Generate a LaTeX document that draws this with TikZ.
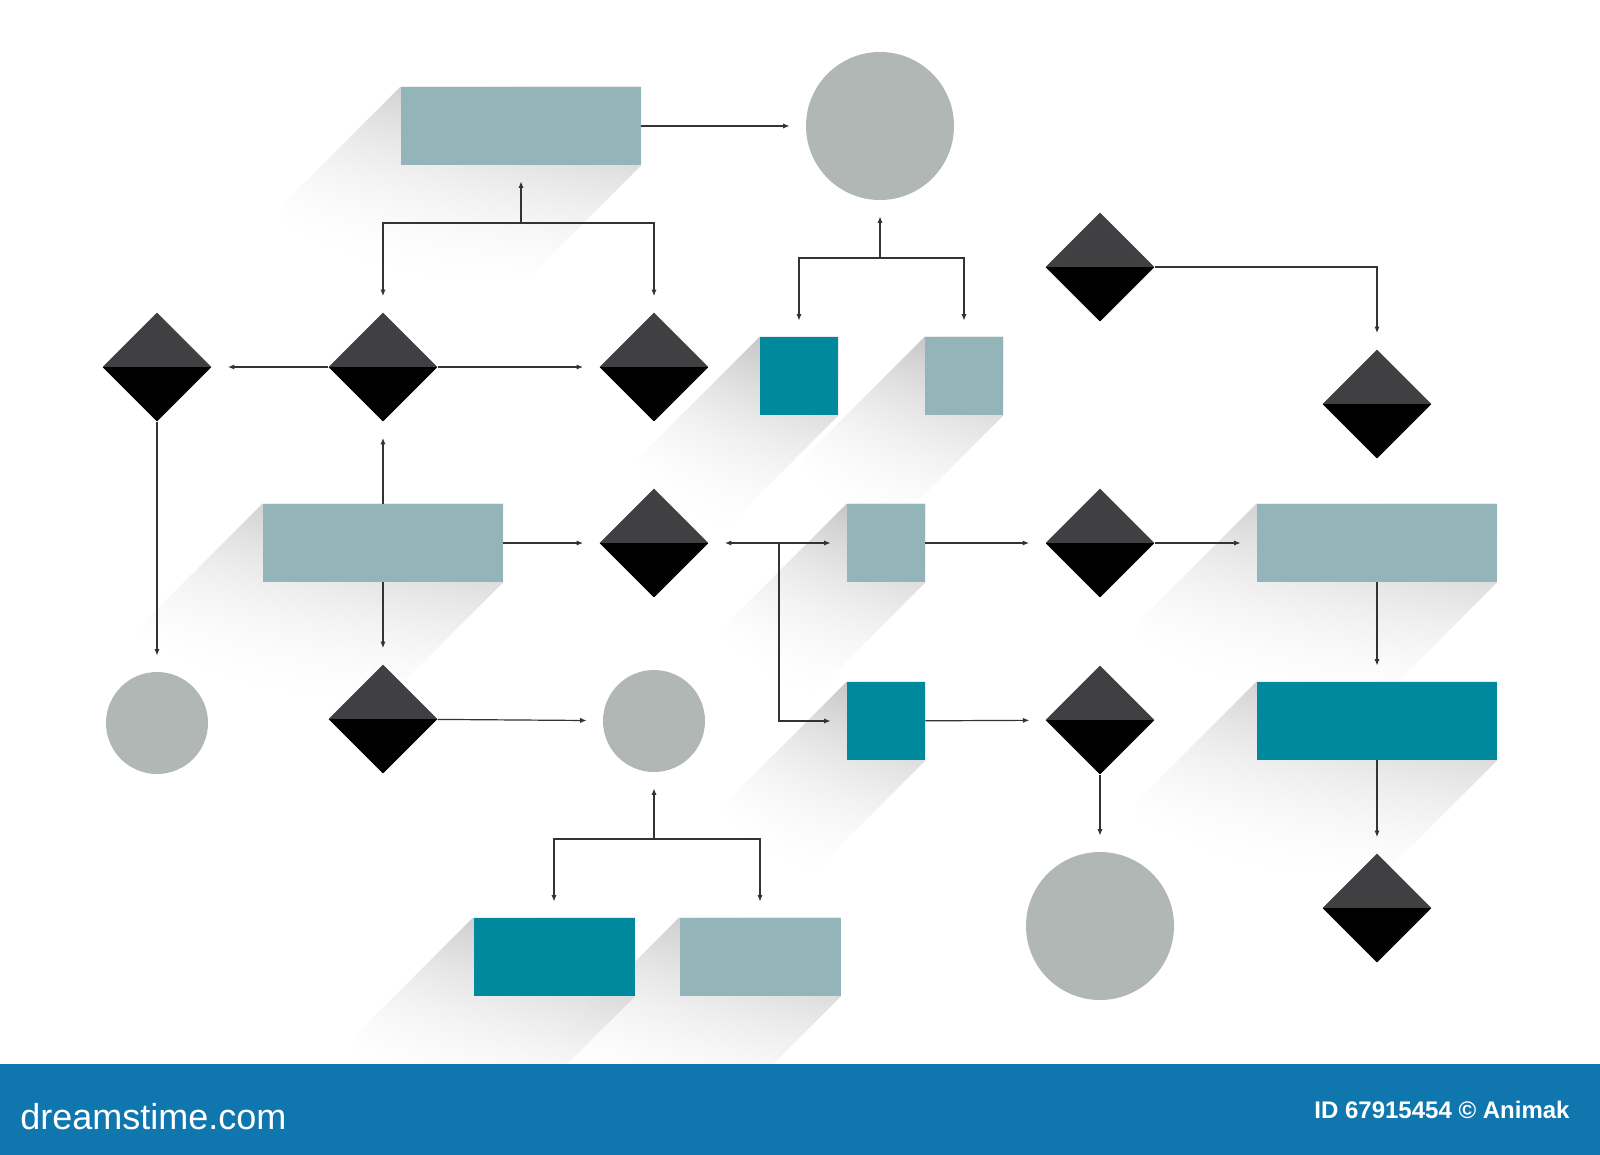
\documentclass[tikz,border=0pt]{standalone}
\usepackage{fontspec}
\setmainfont{Liberation Sans}
\usepackage{xcolor}
\definecolor{pale-teal}{HTML}{93B5BA}
\definecolor{deep-teal}{HTML}{00899C}
\definecolor{stone}{HTML}{B0B7B5}
\definecolor{coal}{HTML}{404042}
\definecolor{wire}{HTML}{333333}
\definecolor{banner-blue}{HTML}{1077AE}
\usepackage{tikz}
\usetikzlibrary{shapes.geometric}
\usetikzlibrary{arrows.meta}
\usetikzlibrary{fadings}
\pgfdeclarelayer{shade}
\pgfsetlayers{shade,main}
\tikzfading[name=shadowfade, top color=transparent!0, bottom color=transparent!100]
\tikzset{lightbox/.style = {fill=pale-teal, inner sep=0pt, minimum width=120pt, minimum height=39pt}}
\tikzset{darkbox/.style = {fill=deep-teal, inner sep=0pt, minimum width=120pt, minimum height=39pt}}
\tikzset{disc/.style = {circle, fill=stone, inner sep=0pt, minimum size=51pt}}
\tikzset{decide/.style = {diamond, fill=coal, inner sep=0pt, minimum width=54.5pt, minimum height=54.5pt,
  path picture={\fill[black] (path picture bounding box.west) rectangle (path picture bounding box.south east);}}}
\tikzset{arr/.style = {draw=wire, line width=0.6pt, -{Latex[length=3.2pt,width=2.6pt]}, shorten >=8pt}}
\tikzset{longshade/.style = {top color=black!24, bottom color=white, path fading=shadowfade, fading angle=-45}}
% long flat shadow falling to the lower left
\newcommand{\dropshade}[1]{%
  \shade[longshade] (#1.north west) -- (#1.north east) -- (#1.south east)
    -- ([shift={(-120,120)}]#1.south east) -- ([shift={(-120,120)}]#1.south west)
    -- ([shift={(-120,120)}]#1.north west) -- cycle;}

\begin{document}
\begin{tikzpicture}[x=0.5pt, y=-0.5pt]
\useasboundingbox (0,0) rectangle (1600,1155);

\node[lightbox] (rtop) at (521,126) {};
\node[disc, minimum size=74pt] (ctop) at (880,126) {};
\node[decide] (d1) at (157,367) {};
\node[decide] (d2) at (383,367) {};
\node[decide] (d3) at (654,367) {};
\node[darkbox, minimum width=39pt] (s1) at (799,376) {};
\node[lightbox, minimum width=39pt] (s2) at (964,376) {};
\node[decide] (d8) at (1100,267) {};
\node[decide] (d10) at (1377,404) {};
\node[lightbox] (r2) at (383,543) {};
\node[decide] (d4) at (654,543) {};
\node[lightbox, minimum width=39pt] (s3) at (886,543) {};
\node[decide] (d6) at (1100,543) {};
\node[lightbox] (r3) at (1377,543) {};
\node[disc] (c1) at (157,723) {};
\node[decide] (d5) at (383,719) {};
\node[disc] (c2) at (654,721) {};
\node[darkbox, minimum width=39pt] (s4) at (886,721) {};
\node[decide] (d7) at (1100,720) {};
\node[darkbox] (r4) at (1377,721) {};
\node[disc, minimum size=74pt] (c4) at (1100,926) {};
\node[decide] (d9) at (1377,908) {};
\node[darkbox, minimum width=80.5pt] (r5) at (554,957) {};
\node[lightbox, minimum width=80.5pt] (r6) at (760,957) {};

\begin{pgfonlayer}{shade}
\foreach \b in {rtop, s1, s2, r2, s3, r3, s4, r4, r5, r6}
  \dropshade{\b};
\end{pgfonlayer}

% branch points
\coordinate (t1) at (521,223);
\coordinate (t2) at (880,258);
\coordinate (t3) at (654,839);
\coordinate (j) at (779,543);

\draw[arr]  (rtop) -- (ctop);
\draw[arr]  (t1) -- (rtop);
\draw[arr]  (t1) -| (d2);
\draw[arr]  (t1) -| (d3);
\draw[arr]  (t2) -- (ctop);
\draw[arr]  (t2) -| (s1);
\draw[arr]  (t2) -| (s2);
\draw[arr]  (d2) -- (d1);
\draw[arr]  (d2) -- (d3);
\draw[arr]  (d8) -| (d10);
\draw[arr]  (r2) -- (d2);
\draw[arr]  (d1) -- (c1);
\draw[arr]  (r2) -- (d4);
\draw[arr]  (r2) -- (d5);
\draw[arr]  (d5) -- (c2);
\draw[arr]  (j) -- (d4);
\draw[arr]  (j) -- (s3);
\draw[arr]  (j) |- (s4);
\draw[arr]  (s3) -- (d6);
\draw[arr]  (d6) -- (r3);
\draw[arr]  (r3) -- (r4);
\draw[arr]  (r4) -- (d9);
\draw[arr]  (s4) -- (d7);
\draw[arr]  (d7) -- (c4);
\draw[arr]  (t3) -- (c2);
\draw[arr]  (t3) -| (r5);
\draw[arr]  (t3) -| (r6);

% footer strip
\fill[banner-blue] (0,1064) rectangle (1600,1155);
\node[anchor=west, text=white, inner sep=0pt, font=\fontsize{18pt}{18pt}\selectfont] (brand) at (20,1117) {dreamstime.com};
\node[anchor=east, text=white, inner sep=0pt, font=\fontsize{12pt}{12pt}\selectfont\bfseries] (credit) at (1570,1110) {ID 67915454 © Animak};

\end{tikzpicture}
\end{document}
